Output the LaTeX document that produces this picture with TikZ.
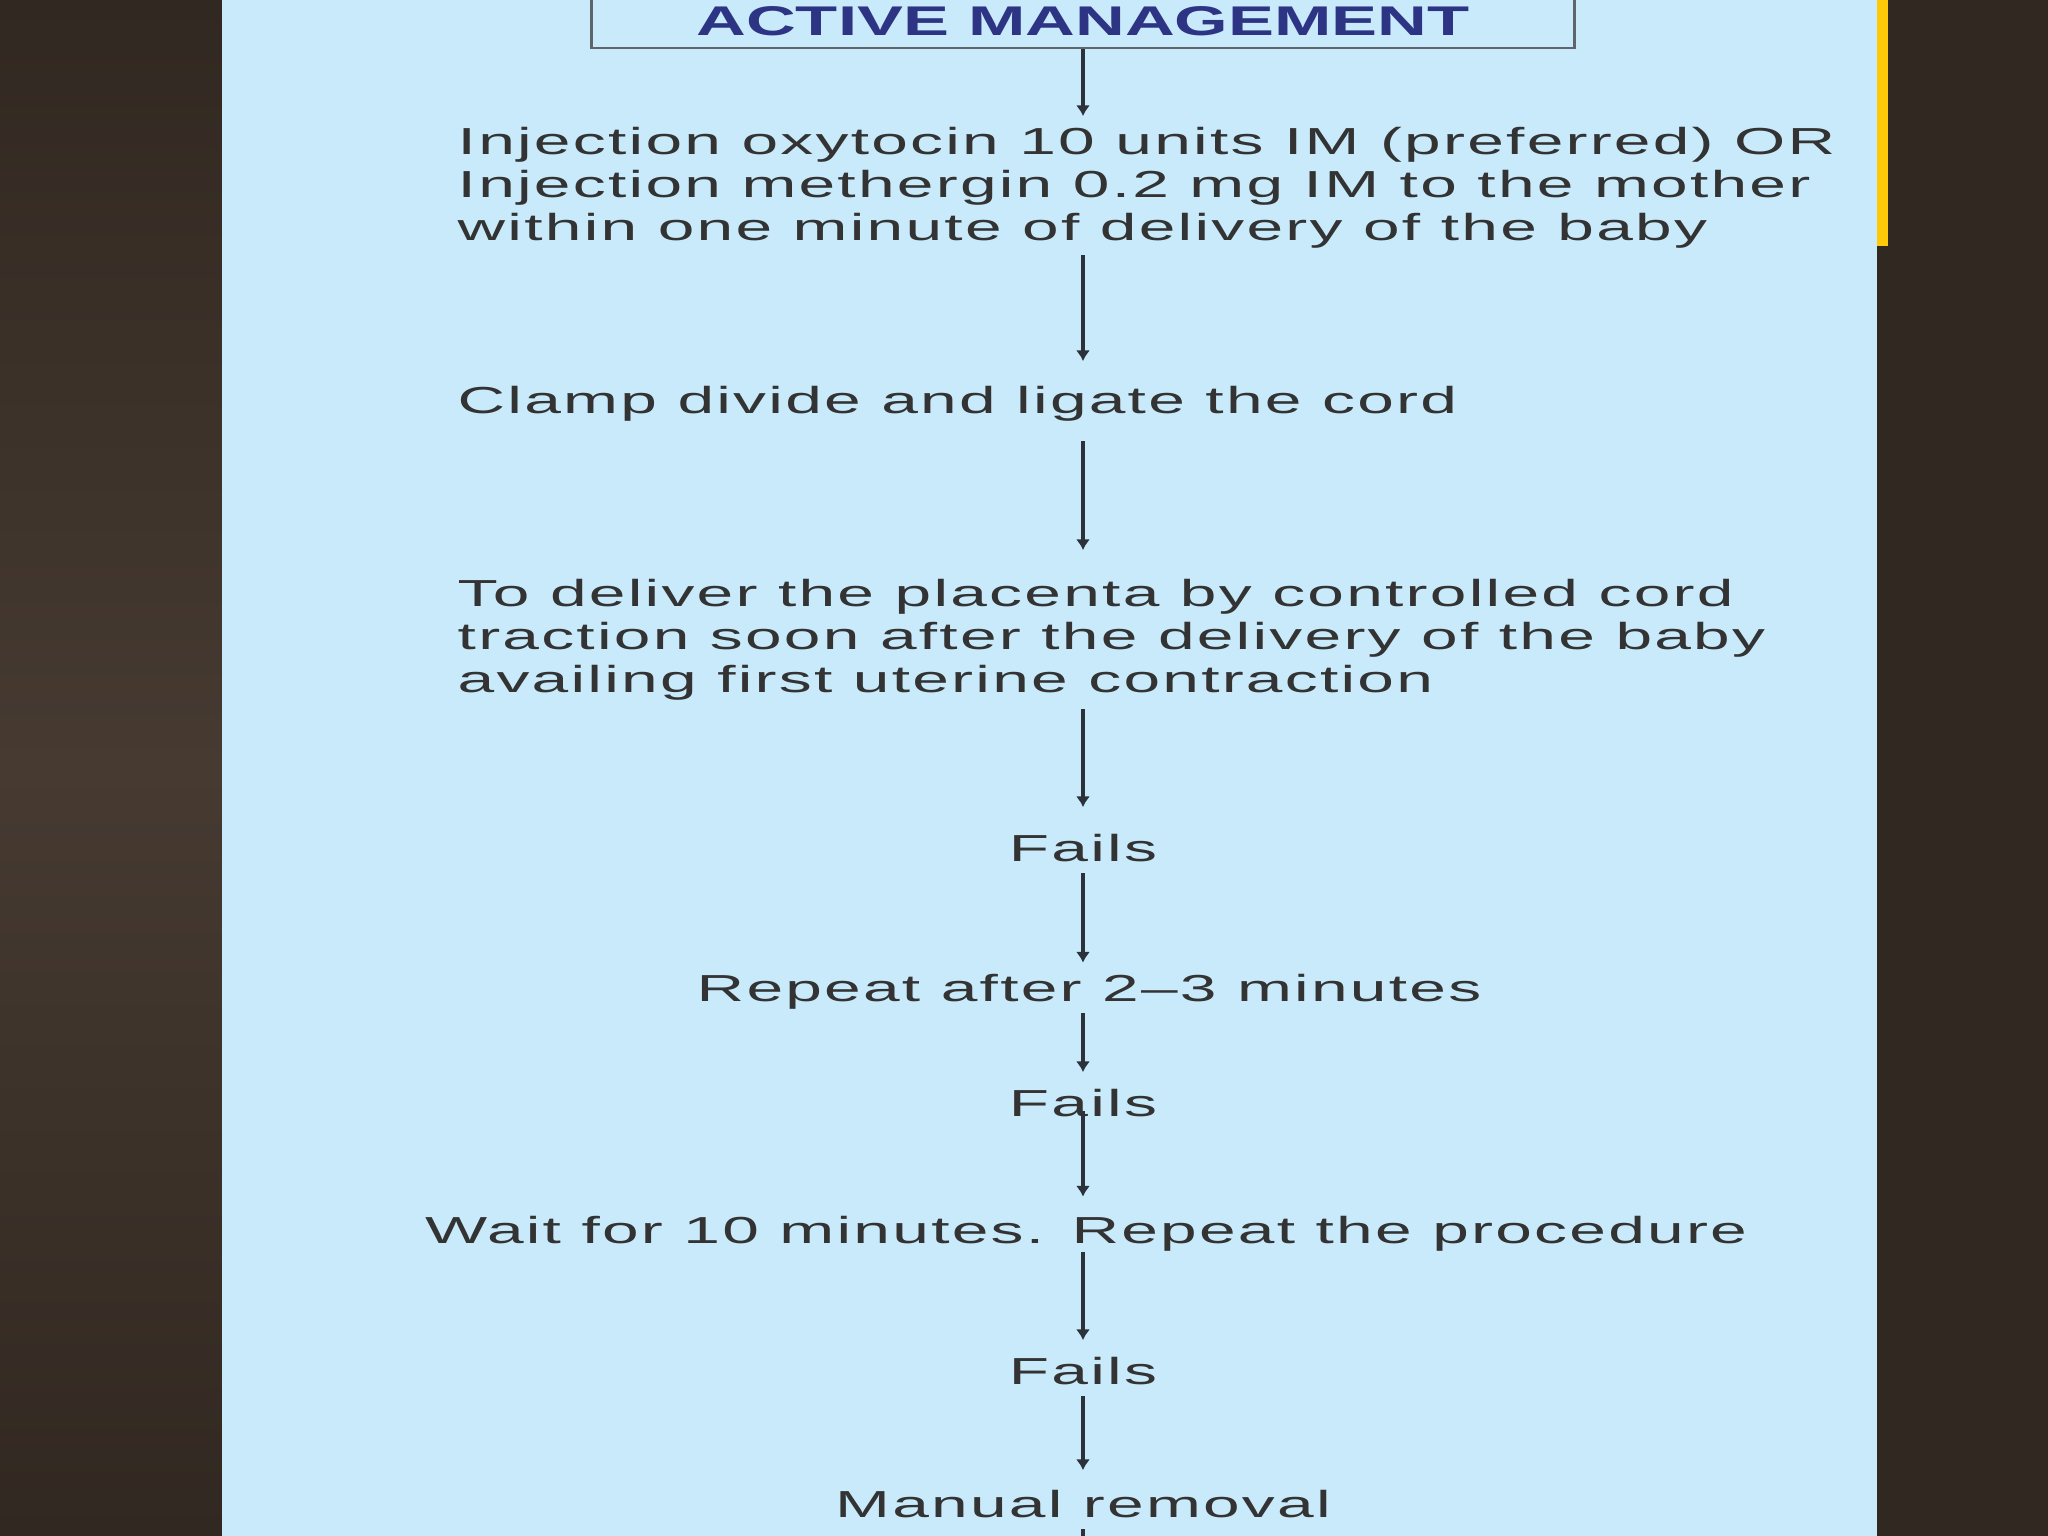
\documentclass[tikz,border=0pt]{standalone}
\usepackage{fontspec}
\setmainfont{Liberation Sans}[FakeStretch=1.75, LetterSpace=6]
\newfontfamily\headfont{Liberation Sans}[FakeStretch=1.66]
\usetikzlibrary{arrows.meta}
\definecolor{slidebrown}{HTML}{312821}
\definecolor{slidelight}{HTML}{463A31}
\definecolor{panelblue}{HTML}{C8EAFB}
\definecolor{baryellow}{HTML}{FFC90A}
\definecolor{titlenavy}{HTML}{2D3484}
\definecolor{inkgray}{HTML}{333333}
\definecolor{arrowink}{HTML}{2B323A}
\tikzset{
  flowtext/.style={text=inkgray, inner sep=0pt, align=left,
    font=\fontsize{10.7}{12.1}\selectfont},
  flowarrow/.style={draw=arrowink, line width=0.9pt, -{Latex[length=3pt,width=4pt]}},
  gap/.style 2 args={shorten <=#1, shorten >=#2}
}
\begin{document}
\begin{tikzpicture}[x=0.01cm, y=-0.01cm]
\useasboundingbox (0,0) rectangle (2048,1536);
\clip (0,0) rectangle (2048,1536);
% slide background
\fill[slidebrown] (0,0) rectangle (2048,1536);
\shade[top color=slidebrown, bottom color=slidebrown, middle color=slidelight] (0,0) rectangle (222,1536);
\fill[panelblue] (222,0) rectangle (1877,1536);
\fill[baryellow] (1877,0) rectangle (1888,246);

% header box
\node[draw=arrowink!75, line width=0.7pt, minimum width=9.82cm, minimum height=0.6cm,
  text height=0.34cm, text depth=0pt,
  text=titlenavy, font=\headfont\fontsize{11.8}{12}\selectfont\bfseries] (title) at (1083,18) {ACTIVE MANAGEMENT};

% steps
\node[flowtext, anchor=north west] (inject) at (457,127)
  {Injection oxytocin 10 units IM (preferred) OR\\
   Injection methergin 0.2 mg IM to the mother\\
   within one minute of delivery of the baby};
\node[flowtext, anchor=base west] (clamp) at (457,413) {Clamp divide and ligate the cord};
\node[flowtext, anchor=north west] (deliver) at (457,579)
  {To deliver the placenta by controlled cord\\
   traction soon after the delivery of the baby\\
   availing first uterine contraction};
\node[flowtext, anchor=base] (failA) at (1083,861) {Fails};
\node[flowtext, anchor=base] (repeat) at (1089,1001) {Repeat after 2--3 minutes};
\node[flowtext, anchor=base] (failB) at (1083,1116) {Fails};
\node[flowtext, anchor=base] (wait) at (1086,1243) {Wait for 10 minutes. Repeat the procedure};
\node[flowtext, anchor=base] (failC) at (1083,1384) {Fails};
\node[flowtext, anchor=base] (manual) at (1083,1517) {Manual removal};
\coordinate (below) at (1083,1545);

% arrows
\draw[flowarrow, gap={0cm}{0.11cm}] (title.south) -- (title.south |- inject.north);
\draw[flowarrow, gap={0.065cm}{0.24cm}] (title.south |- inject.south) -- (title.south |- clamp.north);
\draw[flowarrow, gap={0.195cm}{0.29cm}] (title.south |- clamp.south) -- (title.south |- deliver.north);
\draw[flowarrow, gap={0.085cm}{0.26cm}] (title.south |- deliver.south) -- (failA);
\draw[flowarrow, gap={0.11cm}{0.105cm}] (failA.south) -- (failA.south |- repeat.north);
\draw[flowarrow, gap={0.035cm}{0.16cm}] (failA.south |- repeat.south) -- (failB.north);
\draw[flowarrow, gap={-0.06cm}{0.185cm}] (failB.south) -- (failB.south |- wait.north);
\draw[flowarrow, gap={0cm}{0.16cm}] (failB.south |- wait.south) -- (failC.north);
\draw[flowarrow, gap={0.11cm}{0.19cm}] (failC.south) -- (manual.north);
\draw[arrowink, line width=0.9pt, shorten <=0.11cm] (manual.south) -- (below);
\end{tikzpicture}
\end{document}
